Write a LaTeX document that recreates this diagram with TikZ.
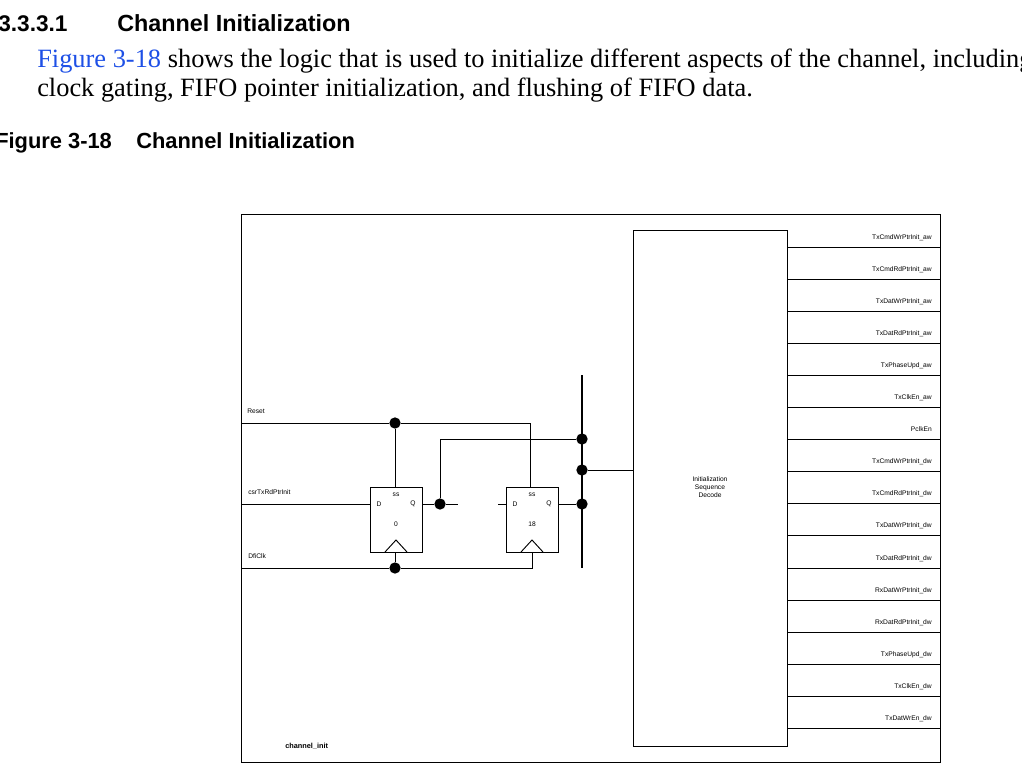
\documentclass[tikz,border=0pt]{standalone}
\usepackage{fontspec}
\setmainfont{Liberation Serif}
\newfontfamily\sans{Liberation Sans}
\begin{document}
\begin{tikzpicture}[x=0.75pt,y=-0.75pt,
  lbl/.style={font=\sans\fontsize{5}{5.8}\selectfont,inner sep=0pt},
  w/.style={line width=0.7pt},
  dot/.style={circle,fill=black,inner sep=0pt,minimum size=8.5pt}]
\useasboundingbox (0,0) rectangle (1022,779);
\clip (0,0) rectangle (1022,779);
% header texts
\node[anchor=base west,inner sep=0pt,font=\sans\bfseries\fontsize{17}{20}\selectfont] (h1) at (-2,31) {3.3.3.1};
\node[anchor=base west,inner sep=0pt,font=\sans\bfseries\fontsize{17.5}{20}\selectfont] (h2) at (117,31) {Channel Initialization};
\node[anchor=base west,inner sep=0pt,font=\fontsize{19.8}{22}\selectfont] (p1) at (37,67) {\textcolor[RGB]{30,80,230}{Figure 3-18} shows the logic that is used to initialize different aspects of the channel, including};
\node[anchor=base west,inner sep=0pt,font=\fontsize{19.8}{22}\selectfont] (p2) at (37,96) {clock gating, FIFO pointer initialization, and flushing of FIFO data.};
\node[anchor=base west,inner sep=0pt,font=\sans\bfseries\fontsize{16.4}{19}\selectfont] (f1) at (-5,148) {Figure 3-18};
\node[anchor=base west,inner sep=0pt,font=\sans\bfseries\fontsize{16.4}{19}\selectfont] (f2) at (136,148) {Channel Initialization};
% diagram frame
\draw[w] (241,214) rectangle (940,762);
\node[draw,w,minimum width=115.5pt,minimum height=387pt,inner sep=0pt] (dec) at (710,488) {};
\node[lbl,align=center] (dect) at (710,487) {Initialization\\Sequence\\Decode};
\node[lbl,font=\sans\bfseries\fontsize{5.5}{6}\selectfont,anchor=base west] (ci) at (285,748) {channel\_init};
% outputs
\foreach \t [count=\i from 0] in {TxCmdWrPtrInit\_aw,TxCmdRdPtrInit\_aw,TxDatWrPtrInit\_aw,TxDatRdPtrInit\_aw,TxPhaseUpd\_aw,TxClkEn\_aw,PclkEn,TxCmdWrPtrInit\_dw,TxCmdRdPtrInit\_dw,TxDatWrPtrInit\_dw,TxDatRdPtrInit\_dw,RxDatWrPtrInit\_dw,RxDatRdPtrInit\_dw,TxPhaseUpd\_dw,TxClkEn\_dw,TxDatWrEn\_dw}{
  \coordinate (oa\i) at (787,247+32.1*\i);
  \coordinate (ob\i) at (940,247+32.1*\i);
  \draw[w] (oa\i) -- (ob\i);
  \node[lbl,anchor=base east] (ol\i) at (932,239+32.1*\i) {\t};
}
% flip flops
\node[draw,w,minimum width=39pt,minimum height=49pt,inner sep=0pt] (ff1) at (396,520) {};
\node[draw,w,minimum width=39pt,minimum height=49pt,inner sep=0pt] (ff2) at (532,520) {};
\coordinate (ff1d) at (370,504); \coordinate (ff1q) at (422,504);
\coordinate (ff2d) at (506,504); \coordinate (ff2q) at (558,504);
\foreach \f/\n/\x in {ff1/0/396,ff2/18/532}{
  \node[lbl] at (\x,495) {ss};
  \node[lbl] at (\x-17,504) {D};
  \node[lbl] at (\x+17,504) {Q};
  \node[lbl] at (\x,524) {\n};
  \draw[w] (\x-11,552) -- (\x,540) -- (\x+11,552);
}
% inputs
\coordinate (rs) at (241,423);
\coordinate (cs) at (241,504);
\coordinate (ck) at (241,568);
\node[lbl,anchor=base west] at (247,413) {Reset};
\node[lbl,anchor=base west] at (248,494) {csrTxRdPtrInit};
\node[lbl,anchor=base west] at (248,558) {DfiClk};
\node[dot] (d1) at (395,423) {};
\node[dot] (d2) at (395,568) {};
\node[dot] (d3) at (440,504) {};
\node[dot] (b1) at (582,439) {};
\node[dot] (b2) at (582,470) {};
\node[dot] (b3) at (582,504) {};
\coordinate (bt) at (582,375);
\coordinate (bb) at (582,568);
\coordinate (g1) at (458,504);
\coordinate (g2) at (498,504);
\draw[w] (rs) -- (d1) -- (530,423) -- (ff2.north -| 530,0);
\draw[w] (d1) -- (ff1.north -| 395,0);
\draw[w] (cs) -- (ff1d);
\draw[w] (ck) -- (d2) -- (532,568) -- (ff2.south);
\draw[w] (d2) -- (ff1.south -| 395,0);
\draw[w] (ff1q) -- (d3) -- (g1);
\draw[w] (g2) -- (ff2d);
\draw[w] (d3) -- (440,439) -- (b1);
\draw[line width=1.3pt] (bt) -- (bb);
\draw[w] (b2) -- (b2 -| dec.west);
\draw[w] (ff2q) -- (b3);
\end{tikzpicture}
\end{document}
